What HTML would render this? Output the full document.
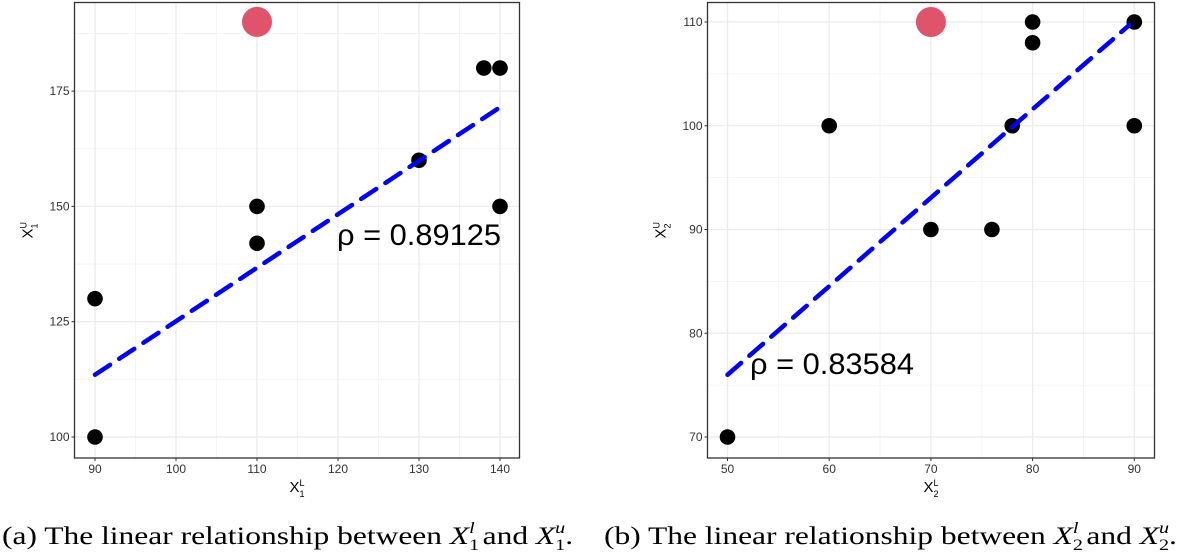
<!DOCTYPE html>
<html><head><meta charset="utf-8"><style>
body{margin:0;background:#fff;width:1200px;height:554px;overflow:hidden}
svg{display:block}
.tk{font-family:"Liberation Sans",sans-serif;font-size:12px;fill:#333}
.cap{font-family:"Liberation Serif",serif;font-size:25px;fill:#000}
</style></head><body>
<svg id="s" width="1200" height="554"></svg>
<script>
const xs1=[90,90,110,110,130,138,140,140];
const ys1=[130,100,150,142,160,180,180,150];
const red1=[110,190];
const fit1=[[90,113.5],[140,171.5]];
const xt1=[90,100,110,120,130,140];
const yt1=[100,125,150,175];
const xs2=[50,60,70,76,78,80,80,90,90];
const ys2=[70,100,90,90,100,110,108,110,100];
const red2=[70,110];
const fit2=[[50,76],[89.5,109.7]];
const xt2=[50,60,70,80,90];
const yt2=[70,80,90,100,110];
const NS="http://www.w3.org/2000/svg";
const svg=document.getElementById('s');
function mk(t,a,p){const e=document.createElementNS(NS,t);for(const k in a)e.setAttribute(k,a[k]);(p||svg).appendChild(e);return e;}
function panel(o){
 const g=mk('g',{});
 
 
 const X=v=>o.x0+(v-o.xa)*o.kx, Y=v=>o.y0-(v-o.ya)*o.ky;
 for(let i=0;i<o.xt.length+1;i++){const v=o.xt[0]+(i-0.5)*o.xs;const px=X(v);if(px>o.L&&px<o.R)mk('line',{x1:px,x2:px,y1:o.T,y2:o.B,stroke:'#f2f2f2','stroke-width':0.8},g);}
 for(let i=0;i<o.yt.length+1;i++){const v=o.yt[0]+(i-0.5)*o.ys;const py=Y(v);if(py>o.T&&py<o.B)mk('line',{x1:o.L,x2:o.R,y1:py,y2:py,stroke:'#f2f2f2','stroke-width':0.8},g);}
 o.xt.forEach(v=>{mk('line',{x1:X(v),x2:X(v),y1:o.T,y2:o.B,stroke:'#ebebeb','stroke-width':1.3},g);mk('line',{x1:X(v),x2:X(v),y1:o.B,y2:o.B+3,stroke:'#333'},g);const t=mk('text',{x:X(v),y:o.B+15,'text-anchor':'middle',class:'tk'},g);t.textContent=v;});
 o.yt.forEach(v=>{mk('line',{x1:o.L,x2:o.R,y1:Y(v),y2:Y(v),stroke:'#ebebeb','stroke-width':1.3},g);mk('line',{x1:o.L-3,x2:o.L,y1:Y(v),y2:Y(v),stroke:'#333'},g);const t=mk('text',{x:o.L-5,y:Y(v)+4,'text-anchor':'end',class:'tk'},g);t.textContent=v;});
 mk('rect',{x:o.L,y:o.T,width:o.R-o.L,height:o.B-o.T,fill:'none',stroke:'#333','stroke-width':1.3},g);
 o.xsd.forEach((v,i)=>{const c=mk('circle',{cx:X(v),cy:Y(o.ysd[i]),r:7.8,fill:'#000'},g);});
 const r=mk('circle',{cx:X(o.red[0]),cy:Y(o.red[1]),r:15,fill:'#df536b'},g);
 
 const l=mk('line',{x1:X(o.fit[0][0]),y1:Y(o.fit[0][1]),x2:X(o.fit[1][0]),y2:Y(o.fit[1][1]),stroke:'#0000ff','stroke-width':4.5,'stroke-dasharray':'18 11','stroke-linecap':'round'},g);
 
 const rt=mk('text',{x:o.rx,y:o.ry,'font-family':'Liberation Sans, sans-serif','font-size':30,fill:'#000',textLength:164,lengthAdjust:'spacingAndGlyphs'},g);
 rt.textContent=o.rho;
 const xt=mk('text',{x:(o.L+o.R)/2,y:o.B+34,'text-anchor':'middle','font-family':'Liberation Sans, sans-serif','font-size':15,fill:'#000'},g);
 xt.innerHTML='X<tspan font-size="9" dy="5">'+o.sub+'</tspan><tspan font-size="9" dx="-5" dy="-11">L</tspan>';
 
 const yt=mk('text',{x:0,y:0,transform:`translate(${o.L-42},${(o.T+o.B)/2}) rotate(-90)`,'text-anchor':'middle','font-family':'Liberation Sans, sans-serif','font-size':15,fill:'#000'},g);
 yt.innerHTML='X<tspan font-size="9" dy="5">'+o.sub+'</tspan><tspan font-size="9" dx="-5" dy="-11">U</tspan>';
 
 const cp=mk('text',{x:0,y:0,class:'cap',transform:`translate(${o.cx},544) scale(1.26,1)`});
 cp.innerHTML=o.cap;
}
panel({name:'panel-a',L:74.5,R:519.5,T:2.5,B:458,xa:90,x0:95,kx:8.1,ya:100,y0:437,ky:4.612,xt:xt1,yt:yt1,xs:10,ys:25,xsd:xs1,ysd:ys1,red:red1,fit:fit1,rx:337,ry:245,rho:'ρ = 0.89125',sub:'1',cx:2,
 cap:'(a) The linear relationship between <tspan font-style="italic">X</tspan><tspan font-size="16" dy="6">1</tspan><tspan font-size="16" font-style="italic" dx="-8" dy="-17">l</tspan><tspan dy="11"> and </tspan><tspan font-style="italic">X</tspan><tspan font-size="16" dy="6">1</tspan><tspan font-size="16" font-style="italic" dx="-8" dy="-17">u</tspan><tspan dy="11">.</tspan>'});
panel({name:'panel-b',L:707.5,R:1154.5,T:2.5,B:458,xa:50,x0:727.5,kx:10.17,ya:70,y0:437,ky:10.375,xt:xt2,yt:yt2,xs:10,ys:10,xsd:xs2,ysd:ys2,red:red2,fit:fit2,rx:750,ry:374,rho:'ρ = 0.83584',sub:'2',cx:604,
 cap:'(b) The linear relationship between <tspan font-style="italic">X</tspan><tspan font-size="16" dy="6">2</tspan><tspan font-size="16" font-style="italic" dx="-8" dy="-17">l</tspan><tspan dy="11"> and </tspan><tspan font-style="italic">X</tspan><tspan font-size="16" dy="6">2</tspan><tspan font-size="16" font-style="italic" dx="-8" dy="-17">u</tspan><tspan dy="11">.</tspan>'});
</script>
</body></html>
